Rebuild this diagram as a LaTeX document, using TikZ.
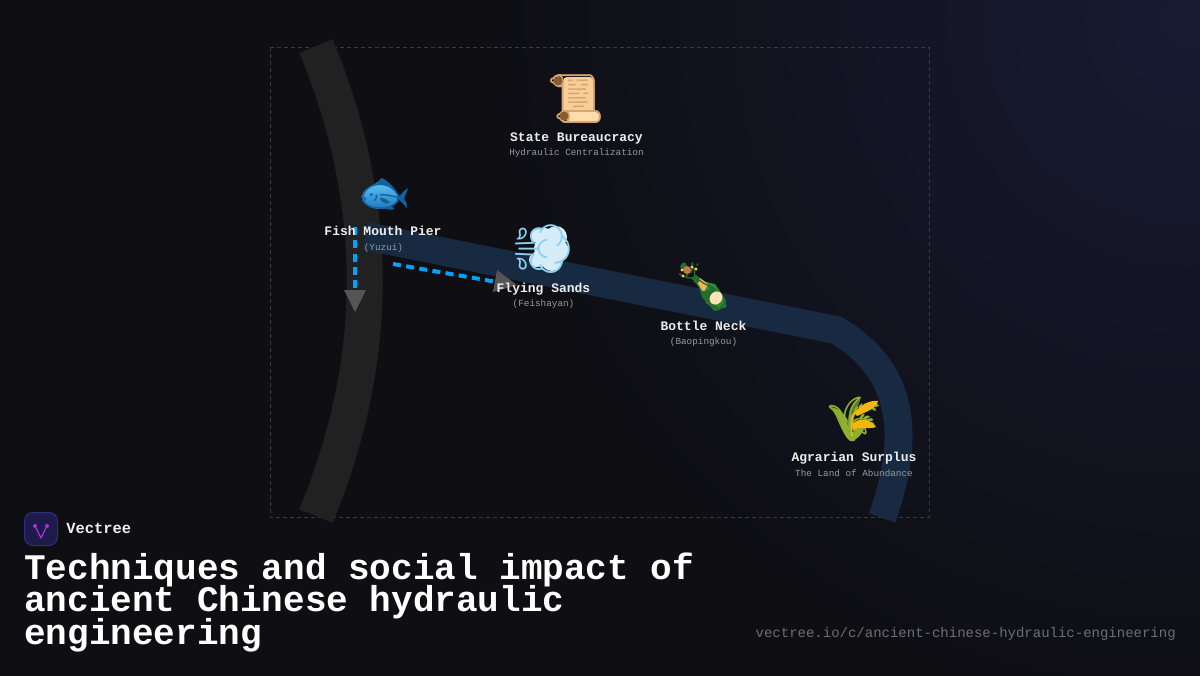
\documentclass[tikz,border=0pt]{standalone}
\usepackage{fontspec}
\setmainfont{Liberation Mono}
\newfontfamily\emo{Noto Emoji}
\usetikzlibrary{calc}
\definecolor{bgc}{HTML}{0E0E13}
\definecolor{glow}{HTML}{181B33}
\definecolor{graybank}{HTML}{212122}
\definecolor{bluebank}{HTML}{172A42}
\definecolor{flow}{HTML}{00A2FF}
\definecolor{headc}{HTML}{555555}
\definecolor{boxc}{HTML}{3A3A3E}
\definecolor{maint}{HTML}{EEEEEE}
\definecolor{subt}{HTML}{9A9A9C}
\definecolor{logof}{HTML}{1E1B4B}
\definecolor{logob}{HTML}{312E81}
\definecolor{logov}{HTML}{A832D8}
\definecolor{urlc}{HTML}{6E6E72}
\definecolor{parch}{HTML}{F8CE96}
\definecolor{parchl}{HTML}{FFDDAA}
\definecolor{knob}{HTML}{8A5A30}
\definecolor{fishl}{HTML}{58BDF0}
\definecolor{fishd}{HTML}{1A78C2}
\definecolor{cloud}{HTML}{D6ECF8}
\definecolor{cloudl}{HTML}{8CD0F4}
\definecolor{bottleg}{HTML}{2F8A35}
\definecolor{foil}{HTML}{F0B45A}
\definecolor{cream}{HTML}{FCE3B8}
\definecolor{cork}{HTML}{BE7A4E}
\definecolor{spark}{HTML}{F5D24A}
\definecolor{leaf}{HTML}{8DB02E}
\definecolor{leafd}{HTML}{5F7A2A}
\definecolor{grain}{HTML}{F5B60F}
\tikzset{
 x=0.75pt,y=-0.75pt,
 band/.style={line width=27pt,line cap=butt,line join=miter},
 flowline/.style={line width=3pt,draw=flow,dash pattern=on 6pt off 4pt},
 lab/.style={font=\fontsize{9.75pt}{11pt}\selectfont\bfseries,text=maint,anchor=base,inner sep=0pt},
 sublab/.style={font=\fontsize{7pt}{8pt}\selectfont,text=subt,anchor=base,inner sep=0pt},
 emoji/.style={font=\fontsize{36pt}{40pt}\emo,anchor=center,inner sep=0pt},
}
\begin{document}
\begin{tikzpicture}
\useasboundingbox (0,0) rectangle (1200,675);
\fill[bgc] (-5,-5) rectangle (1205,680);
\begin{scope}
\clip (-5,-5) rectangle (1205,680);
\shade[inner color=glow,outer color=bgc] (1190,20) circle (700);
\end{scope}
\draw[boxc,line width=0.75pt,dash pattern=on 3pt off 2.25pt] (270,47) rectangle (929,517);
% banks
\coordinate (gs) at (316,46); \coordinate (ge) at (316,516);
\draw[band,graybank] (gs) .. controls (381,203) and (381,359) .. (ge);
\coordinate (bs) at (365,236); \coordinate (bm) at (836,330); \coordinate (be) at (882,518);
\draw[band,bluebank,line width=21pt] (bs) -- (bm) .. controls (900,367) and (914,429) .. (be);
% flows
\coordinate (f1a) at (355,227); \coordinate (f1b) at (355,292);
\coordinate (f2a) at (393,264); \coordinate (f2b) at (497,282);
\draw[flowline] (f1a) -- (f1b);
\draw[flowline] (f2a) -- (f2b);
\fill[headc] (344,290) -- (366,290) -- (355,312) -- cycle;
\fill[headc] (497,270) -- (517,285) -- (493,292) -- cycle;
% scroll
\fill[parch,rounded corners=3pt] (563,77) rectangle (594,116);
\fill[parchl,rounded corners=3pt] (566,112) rectangle (600,122);
\node[emoji,text=parch!65!knob] (escroll) at (576,99) {\symbol{"1F4DC}};
\fill[knob] (558,81) circle (4.5); \fill[knob] (564,116) circle (4.5);
% fish
\fill[fishd] (398,198) -- (408,188) -- (404,198) -- (407,208) -- cycle;
\fill[fishd] (370,187) -- (382,179) -- (392,189) -- cycle;
\shade[top color=fishl,bottom color=fishd] (380,197) ellipse (18 and 12);
\node[emoji,text=fishd!80!black,font=\fontsize{29pt}{32pt}\emo] (efish) at (384,194) {\symbol{"1F41F}};
% dash
\foreach \px/\py/\pr in {545/238/10,556/237/11,558/251/11,552/260/11,541/258/9,545/248/11,538/236/7,536/260/7}
  \fill[cloud] (\px,\py) circle (\pr);
\node[emoji,text=cloudl] (edash) at (543,249.5) {\symbol{"1F4A8}};
% bottle
\fill[bottleg] (692,278) -- (696,275) -- (702,281) -- (715,284) -- (725,299) -- (726,307) -- (716,310) -- (706,303) -- (702,292) -- (699,287) -- cycle;
\fill[foil] (695,281) -- (700,278) -- (708,284) -- (704,292) -- (700,288) -- cycle;
\node[emoji,text=bottleg!80!black] (ebottle) at (703,287) {\symbol{"1F37E}};
\fill[cream,rotate around={-40:(716,298)}] (716,298) ellipse (6 and 7);
\fill[cork] (687,270) circle (4);
\foreach \px/\py in {692/267,696/269,683/276,682/270}
  \fill[spark] (\px,\py) circle (1.6);
% sheaf
\fill[leaf] (831,407) .. controls (846,410) and (850,425) .. (853,433) .. controls (856,425) and (860,420) .. (866,420) .. controls (866,428) and (860,440) .. (850,441) .. controls (842,435) and (842,418) .. (831,407) -- cycle;
\fill[leafd] (847,425) .. controls (848,410) and (855,400) .. (861,397) .. controls (858,408) and (853,415) .. (852,432) -- cycle;
\node[emoji,text=leaf,font=\fontsize{33pt}{36pt}\emo] (esheaf) at (854,419) {\symbol{"1F33E}};
\fill[grain] (854,413) .. controls (862,404) and (870,400) .. (878,401) .. controls (877,408) and (866,412) .. (857,416) -- cycle;
\fill[grain] (852,424) .. controls (860,417) and (868,418) .. (876,427) .. controls (868,430) and (858,425) .. (853,431) -- cycle;
\draw[grain,line width=1.2pt] (852,436) .. controls (851,426) and (851,418) .. (855,412);
% labels
\node[lab] (l1) at (576.5,141) {State Bureaucracy};
\node[sublab] (s1) at (576.5,155) {Hydraulic Centralization};
\node[lab] (l2) at (383,235) {Fish Mouth Pier};
\node[sublab] (s2) at (383.5,250) {(Yuzui)};
\node[lab] (l3) at (543.5,292.5) {Flying Sands};
\node[sublab] (s3) at (543.5,306) {(Feishayan)};
\node[lab] (l4) at (703.5,330) {Bottle Neck};
\node[sublab] (s4) at (703.5,344) {(Baopingkou)};
\node[lab] (l5) at (854,461) {Agrarian Surplus};
\node[sublab] (s5) at (854,476) {The Land of Abundance};
% logo
\draw[fill=logof,draw=logob,line width=0.75pt,rounded corners=6.5pt] (24.5,512.5) rectangle (57.5,545.5);
\coordinate (vl) at (35,526); \coordinate (vr) at (47,526); \coordinate (vb) at (41,538);
\draw[logov,line width=1pt,line join=round] (vl) -- (vb) -- (vr);
\fill[logov] (vl) circle (2); \fill[logov] (vr) circle (2);
\node[anchor=base west,inner sep=0pt,text=maint,font=\fontsize{11.6pt}{13pt}\selectfont\bfseries] (brand) at (66,533) {Vectree};
\node[anchor=south west,inner sep=0pt,align=left,text=white,font=\fontsize{27pt}{24.3pt}\selectfont\bfseries,execute at begin node={\lineskiplimit=-30pt\relax}] (title) at (24,652) {Techniques and social impact of\\ancient Chinese hydraulic\\engineering};
\node[anchor=base east,inner sep=0pt,text=urlc,font=\fontsize{10.5pt}{12pt}\selectfont] (url) at (1176,637) {vectree.io/c/ancient-chinese-hydraulic-engineering};
\end{tikzpicture}
\end{document}
